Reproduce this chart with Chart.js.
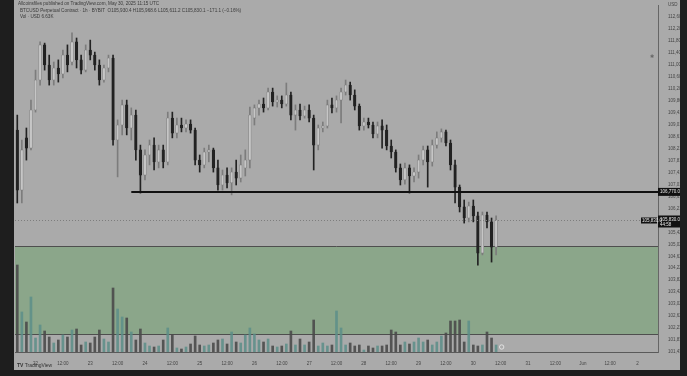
<!DOCTYPE html>
<html>
<head>
<meta charset="utf-8">
<script src="https://cdn.jsdelivr.net/npm/chart.js@4.4.1/dist/chart.umd.min.js"></script>
<style>
  html, body { margin: 0; padding: 0; background: #1e1e1e; width: 687px; height: 376px; overflow: hidden; }
  #frame { position: absolute; left: 14px; top: 0; width: 666px; height: 370px; background: #aaaaaa; }
  #wrap { position: absolute; left: 0; top: 0; width: 666px; height: 370px; }
  .hdr { position: absolute; font-family: "Liberation Sans", Arial, sans-serif; color: #3a3a3a; white-space: nowrap; }
</style>
</head>
<body>
<div id="frame">
  <div id="wrap"><canvas id="chart"></canvas></div>
  <div class="hdr" style="left:4px;top:1px;font-size:4.6px;">Allcoinsfiles published on TradingView.com, May 30, 2025 11:15 UTC</div>
  <div class="hdr" style="left:6px;top:8px;font-size:4.6px;">BTCUSD Perpetual Contract · 1h · BYBIT&nbsp;&nbsp;O105,930.4 H105,968.6 L105,611.2 C105,830.1 −171.1 (−0.16%)</div>
  <div class="hdr" style="left:6px;top:14px;font-size:4.6px;">Vol · USD 6.63K</div>
  <div class="hdr" style="left:3px;top:362px;font-size:5px;color:#333;"><b>TV</b> TradingView</div>
</div>
<script>
// Candles (2h) from May 21 16:00 UTC, prices in USD
const opens = [108830,106830,108570,108230,109500,110500,111670,111000,110500,110900,
  110700,111330,111100,111770,111170,110830,111500,111330,111000,110500,
  110900,111230,108500,109000,109670,108900,109330,108170,107330,108000,
  108330,107770,108170,107770,109230,108730,109000,108900,109030,108830,
  107830,107670,108100,108170,107570,107000,107330,107070,107430,107230,
  107570,107830,109230,109570,109700,109570,110100,109770,109830,109700,
  110000,109330,109500,109300,109500,109230,108330,108900,108970,109670,
  109570,109830,110100,110330,110000,109630,108970,109100,109000,108700,
  108970,108830,108300,108100,107570,107170,107570,107300,107430,107830,
  108170,107770,108330,108570,108770,108400,107670,106930,106270,105900,
  106300,105970,104730,106000,105770,104930];
const highs = [109330,108500,108900,109830,110830,111770,111730,111330,111100,111170,
  111500,111670,112070,111900,111330,111670,111830,111430,111170,111000,
  111330,111330,109170,109830,109830,109570,109500,108330,108170,108500,
  108570,108330,108330,109430,109430,109230,109230,109170,109170,108900,
  108000,108230,108330,108230,107830,107500,107570,107570,107830,108000,
  108170,109600,109670,109830,109900,110230,110230,109970,109970,110400,
  110100,109670,109700,109630,109670,109330,109000,109100,109830,109900,
  109970,110230,110500,110430,110170,109700,109230,109230,109100,109100,
  109170,109000,108500,108170,107700,107730,107670,107570,108000,108300,
  108300,108500,108770,108870,108830,108500,107830,107000,106500,106430,
  106500,106100,106100,106100,105900,105970];
const lows = [106400,106400,107830,108170,109430,110330,110830,110330,110330,110430,
  110570,110770,111000,110900,110700,110770,111170,110830,110330,110430,
  110770,108330,107270,108670,108670,108500,107830,106730,107170,107670,
  107500,107570,107570,107670,108570,108570,108770,108770,108730,107670,
  107430,107570,107770,107430,106830,106830,106900,106670,107000,107100,
  107300,107570,109000,109330,109430,109500,109630,109600,109570,109630,
  109170,108830,109170,109230,109100,107500,108170,108770,108900,109400,
  109430,109070,110000,109830,109500,108830,108830,108900,108570,108570,
  108230,108170,107900,107430,107000,107030,106730,107100,107230,107670,
  106930,107630,108230,108430,108300,107500,106400,106100,105730,105770,
  105770,104330,104670,105570,104430,104670];
const closes = [106830,108170,108230,109500,110500,111670,111000,110500,110900,110700,
  111330,111000,111770,111170,110830,111500,111330,111000,110500,110900,
  111230,108500,109000,109670,108900,109330,108170,107330,108000,108330,
  107770,108170,107770,109230,108730,109000,108900,109030,108830,107830,
  107670,108100,108170,107570,107000,107330,107070,107430,107230,107670,
  107830,109330,109570,109700,109570,110100,109770,109830,109700,110000,
  109330,109500,109300,109500,109230,108330,108900,108970,109670,109570,
  109830,110100,110330,110000,109630,108970,109100,109000,108700,108970,
  108830,108300,108100,107570,107170,107570,107300,107430,107830,108170,
  107770,108330,108570,108770,108400,107670,106930,106270,105900,106300,
  105970,104730,106000,105770,104930,105830];
// Volume per candle (relative units)
const volumes = [87,40,30,55,14,27,21,15,9,12,17,15,22,23,7,10,9,15,22,13,
  10,64,43,35,34,20,12,23,9,6,5,6,12,24,17,4,3,5,8,16,
  7,6,7,9,12,13,8,20,10,9,17,24,18,12,10,13,6,5,6,8,
  21,7,13,7,10,32,6,9,6,7,41,24,7,9,6,7,2,6,4,6,
  6,7,22,20,7,10,8,10,14,10,12,7,10,16,19,31,31,32,10,31,
  7,6,7,20,14,7];

// Time axis: 2h slots, first label (May 22 00:00) at slot 4, one label every 12h
const tickLabels = ['22','12:00','23','12:00','24','12:00','25','12:00','26','12:00',
  '27','12:00','28','12:00','29','12:00','30','12:00','31','12:00','Jun','12:00','2'];
const slotCount = 141;
const firstTickSlot = 4;
const slotsPerTick = 6;

// Drawn levels
const levelPrice = 106770;
const levelStartSlot = 25;
const zoneTop = 104970;
const zoneBottom = 102030;
const lastPrice = 105830;

const UP = '#c6c6c6', UP_LINE = '#7c7c7c', DOWN = '#222222';
const isUp = i => closes[i] >= opens[i];
const fmt = v => v.toLocaleString('en-US', { minimumFractionDigits: 1, maximumFractionDigits: 1 });

const overlay = {
  id: 'overlay',
  beforeDatasetsDraw(chart) {
    const { ctx, chartArea: a, scales: { y } } = chart;
    const t = Math.round(y.getPixelForValue(zoneTop)) + 0.5;
    const b = Math.round(y.getPixelForValue(zoneBottom)) + 0.5;
    ctx.save();
    ctx.fillStyle = '#8ba68a';
    ctx.fillRect(a.left, t, a.right - a.left, b - t);
    ctx.strokeStyle = '#4e4e4e';
    ctx.lineWidth = 1;
    ctx.beginPath();
    ctx.moveTo(a.left, t); ctx.lineTo(a.right, t);
    ctx.moveTo(a.left, b); ctx.lineTo(a.right, b);
    ctx.stroke();
    ctx.restore();
  },
  afterDatasetsDraw(chart) {
    const { ctx, chartArea: a, scales: { x, y } } = chart;
    ctx.save();
    // last price dotted line
    const py = Math.round(y.getPixelForValue(lastPrice)) + 0.5;
    ctx.strokeStyle = '#7d7d7d';
    ctx.setLineDash([1, 2]);
    ctx.beginPath();
    ctx.moveTo(a.left, py); ctx.lineTo(a.right, py);
    ctx.stroke();
    ctx.setLineDash([]);
    // horizontal level
    const ly = y.getPixelForValue(levelPrice);
    ctx.strokeStyle = '#111';
    ctx.lineWidth = 2;
    ctx.beginPath();
    ctx.moveTo(x.getPixelForValue(levelStartSlot), ly); ctx.lineTo(a.right, ly);
    ctx.stroke();

    // axis badges
    ctx.font = '4.5px "Liberation Sans", Arial, sans-serif';
    ctx.textBaseline = 'middle';
    ctx.fillStyle = '#111';
    ctx.fillRect(a.right, ly - 4, 22, 8);
    ctx.fillRect(a.right, py - 5, 22, 12);
    ctx.fillRect(a.right - 17, py - 3, 16, 6);
    ctx.fillStyle = '#e8e8e8';
    ctx.fillText(fmt(levelPrice), a.right + 2, ly);
    ctx.fillText(fmt(lastPrice), a.right + 2, py - 1);
    ctx.fillText('44:58', a.right + 2, py + 4);
    ctx.fillText(fmt(lastPrice), a.right - 16, py);
    // star marker near the axis
    ctx.fillStyle = '#666';
    ctx.fillText('✱', a.right - 8, 57);
    // replay / clock icon at the last bar
    ctx.strokeStyle = '#eeeeee';
    ctx.lineWidth = 0.8;
    ctx.beginPath();
    ctx.arc(x.getPixelForValue(opens.length) + 1, a.bottom - 5, 2.2, 0, Math.PI * 2);
    ctx.stroke();
    ctx.restore();
  }
};

const labels = Array.from({ length: slotCount }, (_, i) => i);

new Chart(document.getElementById('chart'), {
  type: 'bar',
  data: {
    labels: labels,
    datasets: [
      {
        label: 'Volume',
        data: volumes,
        yAxisID: 'yVol',
        backgroundColor: volumes.map((_, i) => isUp(i) ? 'rgba(92,142,136,0.85)' : 'rgba(74,74,74,0.9)'),
        barThickness: 2,
        grouped: false,
        order: 3
      },
      {
        label: 'Wicks',
        data: lows.map((l, i) => [l, highs[i]]),
        backgroundColor: opens.map((_, i) => isUp(i) ? UP_LINE : DOWN),
        barThickness: 1,
        grouped: false,
        order: 2
      },
      {
        label: 'Bodies',
        data: opens.map((o, i) => [o, closes[i]]),
        backgroundColor: opens.map((_, i) => isUp(i) ? UP : DOWN),
        borderColor: opens.map((_, i) => isUp(i) ? UP_LINE : DOWN),
        borderWidth: 0.6,
        borderSkipped: false,
        barThickness: 2.6,
        minBarLength: 1,
        grouped: false,
        order: 1
      }
    ]
  },
  options: {
    responsive: true,
    maintainAspectRatio: false,
    animation: false,
    layout: { padding: { top: 5, left: 1, right: 0, bottom: 0 } },
    plugins: { legend: { display: false }, tooltip: { enabled: false } },
    scales: {
      x: {
        grid: { display: false },
        border: { color: '#5a5a5a' },
        afterFit: s => { s.height = 18; },
        ticks: {
          autoSkip: false,
          maxRotation: 0,
          padding: 1,
          color: '#454545',
          font: { size: 4.5, family: '"Liberation Sans", Arial, sans-serif' },
          callback: (v, i) => {
            const k = i - firstTickSlot;
            return k >= 0 && k % slotsPerTick === 0 ? tickLabels[k / slotsPerTick] : '';
          }
        }
      },
      y: {
        position: 'right',
        min: 101433,
        max: 113000,
        grid: { display: false },
        border: { color: '#666' },
        afterFit: s => { s.width = 22; },
        ticks: {
          stepSize: 400,
          includeBounds: false,
          padding: 2,
          color: '#454545',
          font: { size: 4.5, family: '"Liberation Sans", Arial, sans-serif' },
          callback: v => v >= 112800 ? 'USD' : fmt(v)
        }
      },
      yVol: {
        display: false,
        min: 0,
        max: 347
      }
    }
  },
  plugins: [overlay]
});
</script>
</body>
</html>
